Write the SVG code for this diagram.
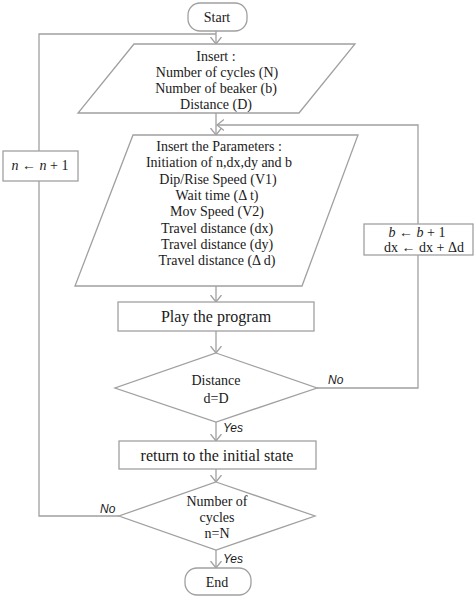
<svg xmlns="http://www.w3.org/2000/svg" width="474" height="597" viewBox="0 0 474 597">
<style>
.sh{fill:#fff;stroke:#a0a0a0;stroke-width:1.3}
.ln{fill:none;stroke:#a0a0a0;stroke-width:1.3}
.t{font-family:"Liberation Serif","Times New Roman",serif;font-size:14px;fill:#1a1a1a;text-anchor:middle}
.tb{font-size:16px}
.lb{font-family:"Liberation Sans",Arial,sans-serif;font-size:12px;font-style:italic;fill:#1a1a1a}
.it{font-style:italic}
</style>
<defs>
<marker id="ar" markerUnits="userSpaceOnUse" markerWidth="14" markerHeight="14" refX="7" refY="7" orient="auto" viewBox="0 0 14 14">
<path d="M0,1.5 L7,7 L0,12.5" fill="none" stroke="#a0a0a0" stroke-width="1.3"/>
</marker>
</defs>
<g id="connectors">
<line class="ln" x1="216" y1="31" x2="216" y2="44" marker-end="url(#ar)"/>
<polyline class="ln" points="119,516 39,516 39,34 216,34"/>
<line class="ln" x1="216" y1="113" x2="216" y2="135" marker-end="url(#ar)"/>
<polyline class="ln" points="317,388 418,388 418,125 217,125" marker-end="url(#ar)"/>
<line class="ln" x1="216" y1="286" x2="216" y2="302" marker-end="url(#ar)"/>
<line class="ln" x1="216" y1="331" x2="216" y2="353" marker-end="url(#ar)"/>
<line class="ln" x1="216" y1="422" x2="216" y2="441" marker-end="url(#ar)"/>
<line class="ln" x1="216" y1="469" x2="216" y2="482" marker-end="url(#ar)"/>
<line class="ln" x1="216" y1="550" x2="216" y2="568" marker-end="url(#ar)"/>
<text class="lb" x="328" y="384">No</text>
<text class="lb" x="223" y="432">Yes</text>
<text class="lb" x="100" y="513">No</text>
<text class="lb" x="223" y="563">Yes</text>
</g>
<g id="start">
<rect class="sh" x="188" y="3" width="59" height="28" rx="12"/>
<text class="t" x="217" y="22">Start</text>
</g>
<g id="insert">
<polygon class="sh" points="134,44 355,44 299,113 78,113"/>
<text class="t" x="216" y="61">Insert :</text>
<text class="t" x="217" y="77">Number of cycles (N)</text>
<text class="t" x="216" y="93">Number of beaker (b)</text>
<text class="t" x="216" y="109">Distance (D)</text>
</g>
<g id="params">
<polygon class="sh" points="133,135 358,135 302,286 75,286"/>
<text class="t" x="219" y="151">Insert the Parameters :</text>
<text class="t" x="219" y="167">Initiation of n,dx,dy and b</text>
<text class="t" x="218" y="184">Dip/Rise Speed (V1)</text>
<text class="t" x="217" y="200">Wait time (Δ t)</text>
<text class="t" x="217" y="216">Mov Speed (V2)</text>
<text class="t" x="217" y="233">Travel  distance (dx)</text>
<text class="t" x="217" y="249">Travel  distance (dy)</text>
<text class="t" x="217" y="265">Travel  distance (Δ d)</text>
</g>
<g id="n-inc">
<rect class="sh" x="3" y="151" width="75" height="30"/>
<text class="t" x="40" y="170"><tspan class="it">n</tspan> ← <tspan class="it">n</tspan>  + 1</text>
</g>
<g id="b-inc">
<rect class="sh" x="364" y="224" width="109" height="31"/>
<text class="t" x="417" y="237"><tspan class="it">b</tspan> ← <tspan class="it">b</tspan>  + 1</text>
<text class="t" x="424" y="252">dx  ←  dx + Δd</text>
</g>
<g id="play">
<rect class="sh" x="118" y="302" width="196" height="29"/>
<text class="t tb" x="216" y="322">Play  the program</text>
</g>
<g id="dec1">
<polygon class="sh" points="216,353 317,388 216,422 115,388"/>
<text class="t" x="216" y="385">Distance</text>
<text class="t" x="216" y="403">d=D</text>
</g>
<g id="return">
<rect class="sh" x="119" y="441" width="197" height="28"/>
<text class="t tb" x="217" y="461">return  to the initial state</text>
</g>
<g id="dec2">
<polygon class="sh" points="216,482 315,516 216,550 119,516"/>
<text class="t" x="217" y="506">Number of</text>
<text class="t" x="217" y="522">cycles</text>
<text class="t" x="217" y="538">n=N</text>
</g>
<g id="end">
<rect class="sh" x="185" y="568" width="66" height="27" rx="12"/>
<text class="t" x="217" y="587">End</text>
</g>
</svg>
